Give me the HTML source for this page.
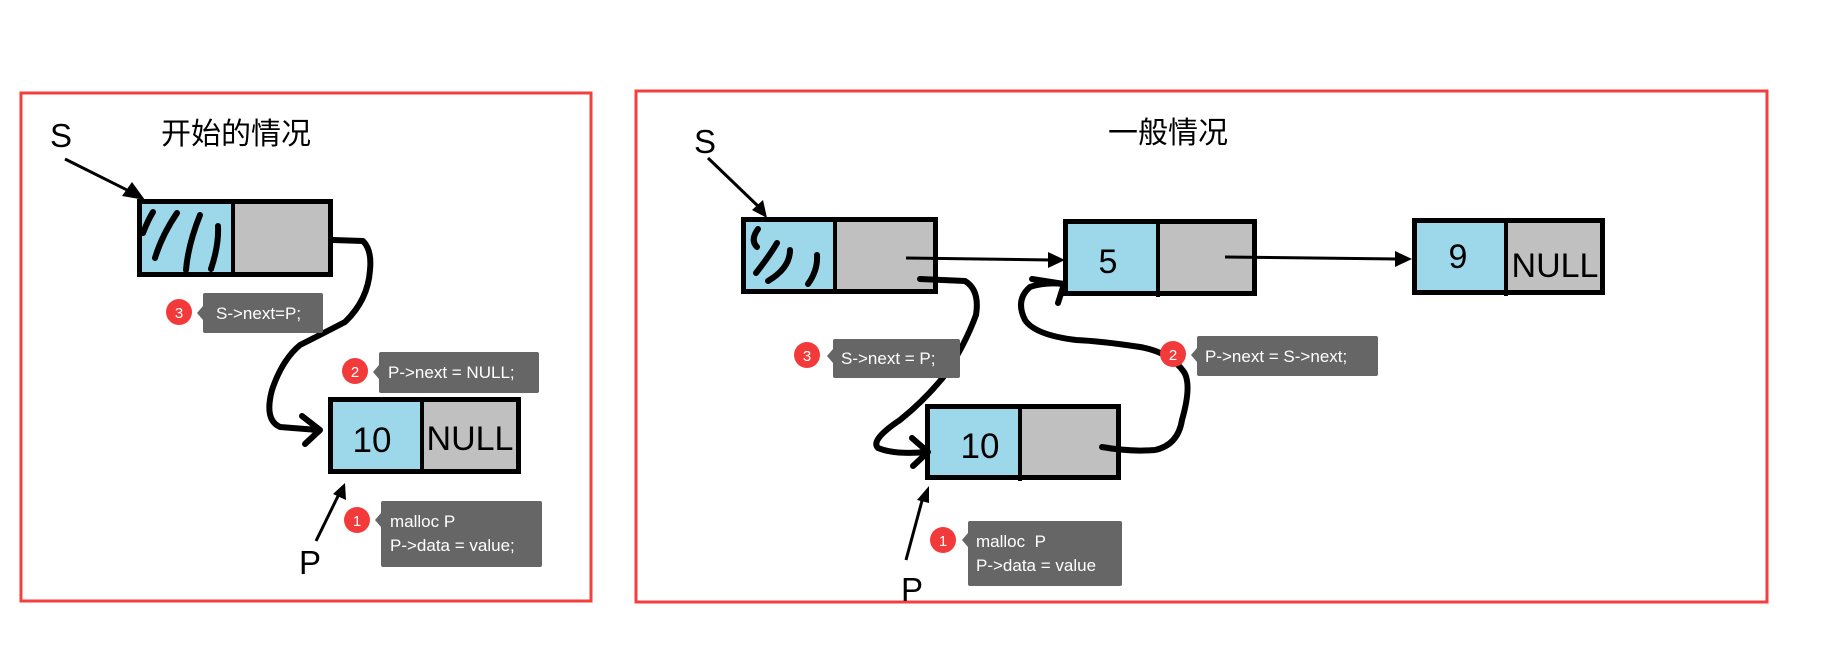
<!DOCTYPE html>
<html><head><meta charset="utf-8"><style>
html,body{margin:0;padding:0;background:#fff;}
svg{display:block;}
text{font-family:"Liberation Sans","Noto Sans CJK SC",sans-serif;}
</style></head><body>
<svg width="1836" height="652" viewBox="0 0 1836 652" xmlns="http://www.w3.org/2000/svg">
<defs>
<marker id="tri" markerWidth="10" markerHeight="10" refX="9" refY="5" orient="auto" markerUnits="userSpaceOnUse">
<path d="M0,0 L10,5 L0,10 z" fill="#000"/></marker>
</defs>
<!-- red boxes -->
<rect x="21" y="93" width="570" height="508" fill="none" stroke="#f43f3f" stroke-width="3"/>
<rect x="636" y="91" width="1131" height="511" fill="none" stroke="#f43f3f" stroke-width="3"/>

<!-- LEFT PANEL -->
<text x="50" y="147" font-size="33">S</text>
<text x="161" y="144" font-size="30" font-family="Noto Sans CJK SC,sans-serif">开始的情况</text>
<line x1="65" y1="159" x2="135" y2="194" stroke="#000" stroke-width="3"/>
<path d="M122,196 L145,200 L132,182 z" fill="#000"/>

<!-- node S left -->
<rect x="139.5" y="201.5" width="95" height="73" fill="#9cd8ea"/>
<rect x="234.5" y="201.5" width="96" height="73" fill="#c0c0c0"/>
<rect x="139.5" y="201.5" width="191" height="73" fill="none" stroke="#000" stroke-width="5"/>
<line x1="233" y1="201" x2="233" y2="277" stroke="#000" stroke-width="4"/>
<g stroke="#000" stroke-width="6" stroke-linecap="round" fill="none">
<path d="M143,233 Q148,220 153,212"/>
<path d="M155,258 Q162,235 177,213"/>
<path d="M186,270 Q188,245 200,215"/>
<path d="M211,269 Q219,245 218,226"/>
</g>
<!-- curve S->P -->
<path d="M333,240 L363,241 Q372,250 370,270 Q368,300 345,322 Q320,335 300,345 Q282,360 272,390 Q264,420 280,427 L318,430" fill="none" stroke="#000" stroke-width="6" stroke-linecap="round" stroke-linejoin="round"/>
<path d="M302,416 L320,430 L305,444" fill="none" stroke="#000" stroke-width="6" stroke-linecap="round" stroke-linejoin="round"/>

<!-- node 10 left -->
<rect x="330.5" y="399.5" width="92" height="72" fill="#9cd8ea"/>
<rect x="422.5" y="399.5" width="96" height="72" fill="#c0c0c0"/>
<rect x="330.5" y="399.5" width="188" height="72" fill="none" stroke="#000" stroke-width="5"/>
<line x1="422" y1="399" x2="422" y2="474" stroke="#000" stroke-width="4"/>
<text x="372" y="452" font-size="35" text-anchor="middle">10</text>
<text x="470" y="450" font-size="34" text-anchor="middle">NULL</text>

<!-- P left -->
<text x="299" y="574" font-size="33">P</text>
<line x1="316" y1="541" x2="340" y2="492" stroke="#000" stroke-width="3"/>
<path d="M333,494 L345,483 L346,500 z" fill="#000"/>

<!-- callouts left -->
<g>
<circle cx="179" cy="312" r="13" fill="#f33a3a"/><text x="179" y="318" font-size="15" fill="#fff" text-anchor="middle">3</text>
<rect x="203" y="293" width="120" height="40" rx="2" fill="#666"/><path d="M203,306 L197,313 L203,320 z" fill="#666"/>
<text x="216" y="319" font-size="17" fill="#fff">S-&gt;next=P;</text>

<circle cx="355" cy="371" r="13" fill="#f33a3a"/><text x="355" y="377" font-size="15" fill="#fff" text-anchor="middle">2</text>
<rect x="379" y="352" width="160" height="41" rx="2" fill="#666"/><path d="M379,365 L373,372 L379,379 z" fill="#666"/>
<text x="388" y="378" font-size="17" fill="#fff">P-&gt;next = NULL;</text>

<circle cx="357" cy="520" r="13" fill="#f33a3a"/><text x="357" y="526" font-size="15" fill="#fff" text-anchor="middle">1</text>
<rect x="381" y="501" width="161" height="66" rx="2" fill="#666"/><path d="M381,513 L375,520 L381,527 z" fill="#666"/>
<text x="390" y="527" font-size="17" fill="#fff">malloc P</text>
<text x="390" y="551" font-size="17" fill="#fff">P-&gt;data = value;</text>
</g>

<!-- RIGHT PANEL -->
<text x="694" y="153" font-size="33">S</text>
<text x="1108" y="143" font-size="30" font-family="Noto Sans CJK SC,sans-serif">一般情况</text>
<line x1="708" y1="158" x2="760" y2="208" stroke="#000" stroke-width="3"/>
<path d="M752,210 L767,218 L763,200 z" fill="#000"/>

<!-- node S right -->
<rect x="743.5" y="219.5" width="92" height="72" fill="#9cd8ea"/>
<rect x="835.5" y="219.5" width="100" height="72" fill="#c0c0c0"/>
<rect x="743.5" y="219.5" width="192" height="72" fill="none" stroke="#000" stroke-width="5"/>
<line x1="835" y1="219" x2="835" y2="294" stroke="#000" stroke-width="4"/>
<g stroke="#000" stroke-width="6" stroke-linecap="round" fill="none">
<path d="M757,247 Q750,240 758,229"/>
<path d="M756,273 Q770,255 777,243"/>
<path d="M768,281 Q790,268 790,250"/>
<path d="M808,284 Q818,270 817,255"/>
</g>
<!-- node 5 -->
<rect x="1065.5" y="221.5" width="93" height="72" fill="#9cd8ea"/>
<rect x="1158.5" y="221.5" width="96" height="72" fill="#c0c0c0"/>
<rect x="1065.5" y="221.5" width="189" height="72" fill="none" stroke="#000" stroke-width="5"/>
<line x1="1158" y1="221" x2="1158" y2="297" stroke="#000" stroke-width="4"/>
<text x="1108" y="273" font-size="34" text-anchor="middle">5</text>
<!-- node 9 -->
<rect x="1414.5" y="220.5" width="92" height="72" fill="#9cd8ea"/>
<rect x="1506.5" y="220.5" width="96" height="72" fill="#c0c0c0"/>
<rect x="1414.5" y="220.5" width="188" height="72" fill="none" stroke="#000" stroke-width="5"/>
<line x1="1506" y1="220" x2="1506" y2="296" stroke="#000" stroke-width="4"/>
<text x="1458" y="268" font-size="34" text-anchor="middle">9</text>
<text x="1555" y="277" font-size="34" text-anchor="middle">NULL</text>
<!-- straight arrows -->
<path d="M906,258 L1052,260" stroke="#000" stroke-width="3"/>
<path d="M1048,252 L1065,260 L1048,268 z" fill="#000"/>
<path d="M1225,257 L1398,259" stroke="#000" stroke-width="3"/>
<path d="M1395,251 L1412,259 L1395,267 z" fill="#000"/>

<!-- node 10 right -->
<rect x="927.5" y="406.5" width="93" height="71" fill="#9cd8ea"/>
<rect x="1020.5" y="406.5" width="98" height="71" fill="#c0c0c0"/>
<rect x="927.5" y="406.5" width="191" height="71" fill="none" stroke="#000" stroke-width="5"/>
<line x1="1020" y1="406" x2="1020" y2="481" stroke="#000" stroke-width="4"/>
<text x="980" y="458" font-size="35" text-anchor="middle">10</text>

<!-- curve 2 -->
<path d="M1102,447 Q1130,452 1155,450 Q1178,445 1182,420 Q1192,385 1184,372 Q1170,352 1140,347 Q1100,341 1076,340 Q1035,335 1025,320 Q1015,300 1030,287 Q1045,282 1063,284" fill="none" stroke="#000" stroke-width="6" stroke-linecap="round" stroke-linejoin="round"/>
<path d="M1032,279 L1064,284 L1058,303" fill="none" stroke="#000" stroke-width="6" stroke-linecap="round" stroke-linejoin="round"/>
<!-- curve 3 -->
<path d="M920,279 L965,281 Q980,290 976,315 Q965,345 945,375 Q925,400 900,420 Q870,440 878,448 Q895,455 927,452" fill="none" stroke="#000" stroke-width="6" stroke-linecap="round" stroke-linejoin="round"/>
<path d="M912,438 L928,452 L913,466" fill="none" stroke="#000" stroke-width="6" stroke-linecap="round" stroke-linejoin="round"/>

<!-- P right -->
<text x="901" y="601" font-size="33">P</text>
<line x1="906" y1="560" x2="923" y2="497" stroke="#000" stroke-width="3"/>
<path d="M917,500 L929,486 L929,503 z" fill="#000"/>

<!-- callouts right -->
<circle cx="807" cy="355" r="13" fill="#f33a3a"/><text x="807" y="361" font-size="15" fill="#fff" text-anchor="middle">3</text>
<rect x="833" y="339" width="127" height="39" rx="2" fill="#666"/><path d="M833,349 L827,356 L833,363 z" fill="#666"/>
<text x="841" y="364" font-size="17" fill="#fff">S-&gt;next = P;</text>

<circle cx="1173" cy="354" r="13" fill="#f33a3a"/><text x="1173" y="360" font-size="15" fill="#fff" text-anchor="middle">2</text>
<rect x="1197" y="336" width="181" height="40" rx="2" fill="#666"/><path d="M1197,348 L1191,355 L1197,362 z" fill="#666"/>
<text x="1205" y="362" font-size="17" fill="#fff">P-&gt;next = S-&gt;next;</text>

<circle cx="943" cy="540" r="13" fill="#f33a3a"/><text x="943" y="546" font-size="15" fill="#fff" text-anchor="middle">1</text>
<rect x="968" y="521" width="154" height="65" rx="2" fill="#666"/><path d="M968,533 L962,540 L968,547 z" fill="#666"/>
<text x="976" y="547" font-size="17" fill="#fff" xml:space="preserve">malloc  P</text>
<text x="976" y="571" font-size="17" fill="#fff">P-&gt;data = value</text>
</svg>
</body></html>
